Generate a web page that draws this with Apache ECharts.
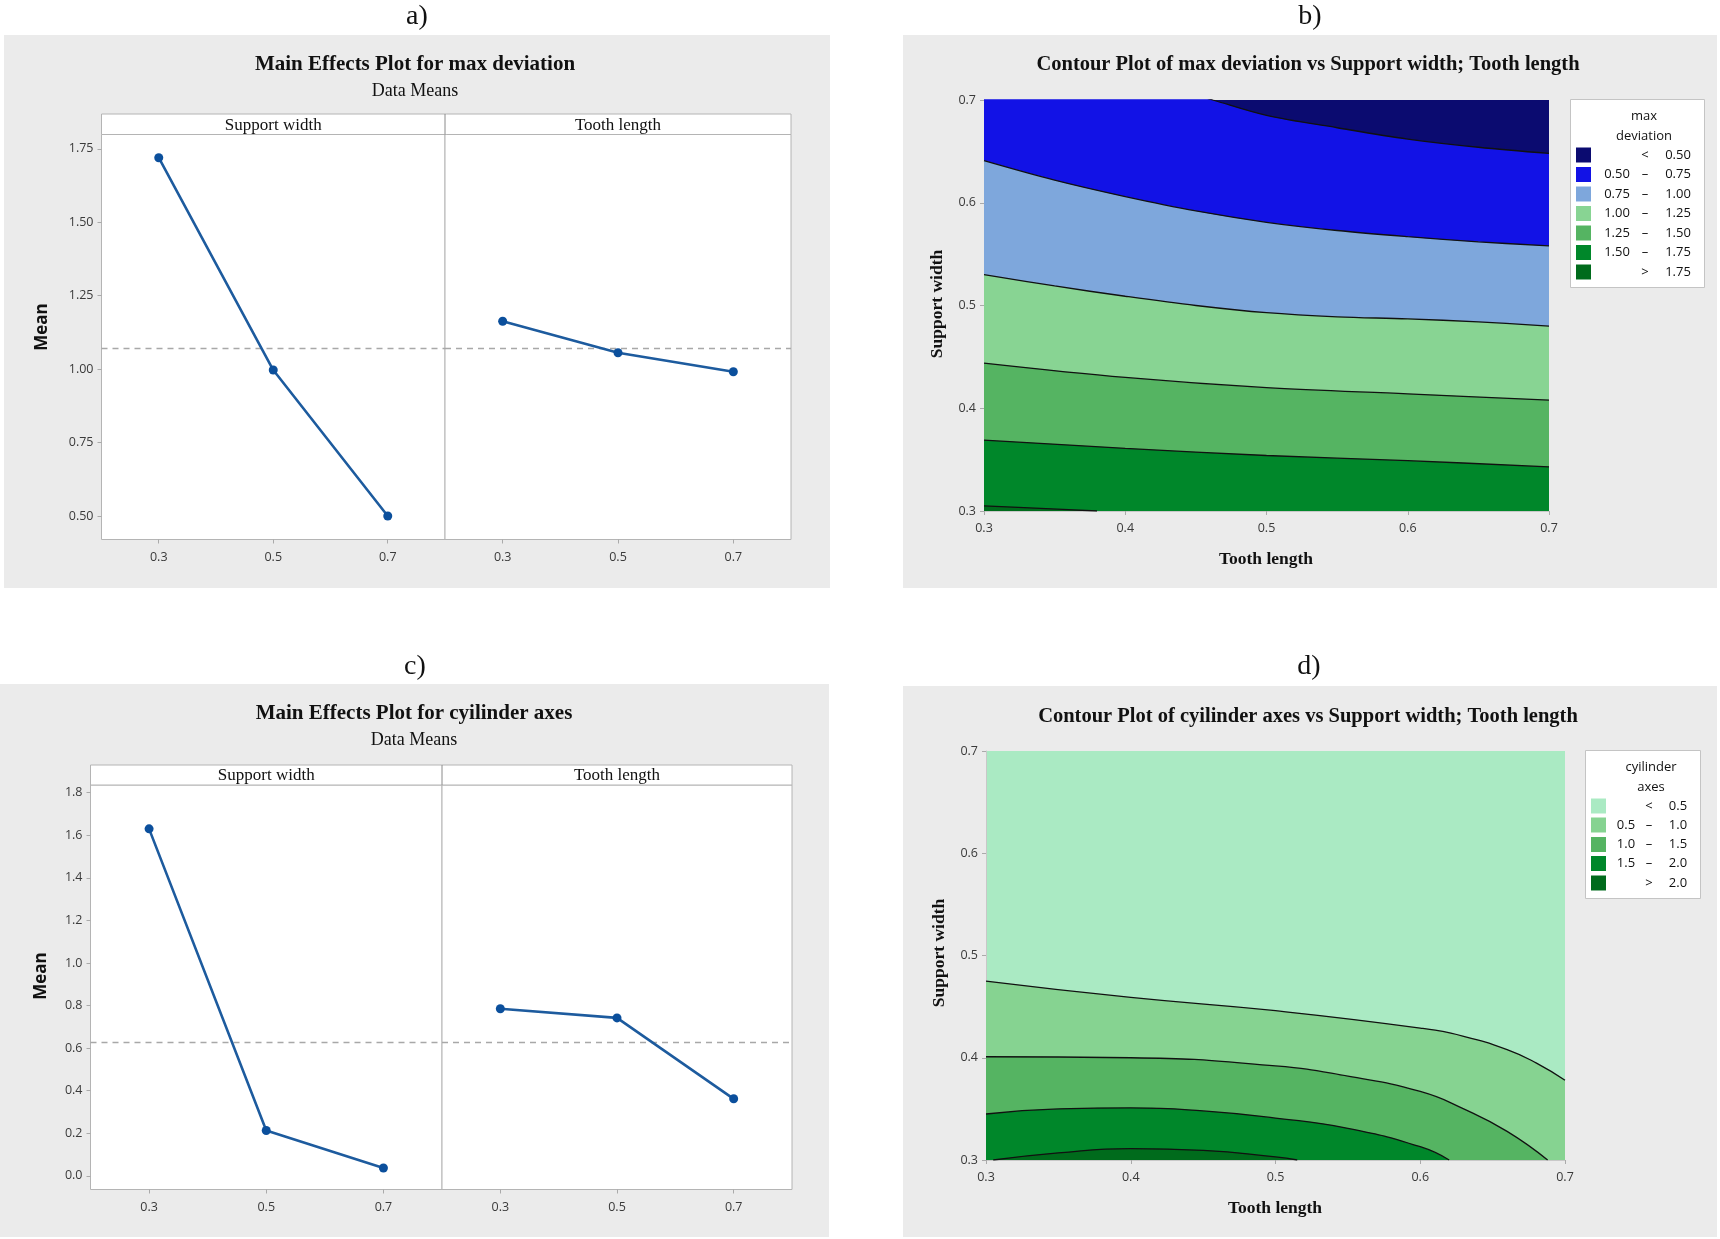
<!DOCTYPE html>
<html>
<head>
<meta charset="utf-8">
<style>
html,body{margin:0;padding:0;background:#ffffff;}
#wrap{position:relative;width:1720px;height:1239px;overflow:hidden;}
.bg{position:absolute;background:#ebebeb;}
#chart{position:absolute;left:0;top:0;width:1720px;height:1239px;}
</style>
<script src="https://cdn.jsdelivr.net/npm/echarts@6.0.0/dist/echarts.min.js"></script>
</head>
<body>
<div id="wrap">
  <div class="bg" style="left:4px;top:35px;width:826px;height:553px;"></div>
  <div class="bg" style="left:903px;top:35px;width:814px;height:553px;"></div>
  <div class="bg" style="left:0px;top:684px;width:829px;height:553px;"></div>
  <div class="bg" style="left:903px;top:686px;width:814px;height:551px;"></div>
  <div id="chart"></div>
</div>
<script>
// ---------- DATA ----------
const factorLevels = [0.3, 0.5, 0.7];
const xTickValues = [0.3, 0.5, 0.7];

// a) Main effects for max deviation
const aSupportMeans = [1.72, 0.997, 0.50];
const aToothMeans = [1.163, 1.056, 0.991];
const aGrandMean = 1.071;
const aYTicks = [0.50, 0.75, 1.00, 1.25, 1.50, 1.75];

// c) Main effects for cyilinder axes
const cSupportMeans = [1.63, 0.213, 0.037];
const cToothMeans = [0.785, 0.742, 0.362];
const cGrandMean = 0.627;
const cYTicks = [0.0, 0.2, 0.4, 0.6, 0.8, 1.0, 1.2, 1.4, 1.6, 1.8];

// b) Contour lines of max deviation: [Tooth length, Support width]
const bContour050 = [[0.3,0.765],[0.4,0.725],[0.462,0.700],[0.5,0.685],[0.55,0.673],[0.6,0.662],[0.65,0.654],[0.7,0.648]];
const bContour075 = [[0.3,0.641],[0.35,0.622],[0.4,0.606],[0.45,0.592],[0.5,0.581],[0.55,0.573],[0.6,0.567],[0.65,0.562],[0.7,0.558]];
const bContour100 = [[0.3,0.530],[0.35,0.519],[0.4,0.509],[0.45,0.500],[0.5,0.493],[0.55,0.489],[0.6,0.487],[0.65,0.484],[0.7,0.480]];
const bContour125 = [[0.3,0.444],[0.4,0.430],[0.5,0.420],[0.6,0.414],[0.7,0.408]];
const bContour150 = [[0.3,0.369],[0.4,0.361],[0.5,0.354],[0.6,0.349],[0.7,0.343]];
const bContour175 = [[0.3,0.305],[0.34,0.3025],[0.38,0.300]];
const bLegendLo = ['', '0.50', '0.75', '1.00', '1.25', '1.50', ''];
const bLegendOp = ['<', '–', '–', '–', '–', '–', '>'];
const bLegendHi = ['0.50', '0.75', '1.00', '1.25', '1.50', '1.75', '1.75'];
const bColors = ['#0b0b70', '#1212e6', '#7ea7dc', '#88d493', '#55b462', '#00872a', '#006b1c'];

// d) Contour lines of cyilinder axes
const dContour05 = [[0.3,0.475],[0.4,0.459],[0.5,0.446],[0.6,0.429],[0.63,0.421],[0.66,0.408],[0.68,0.395],[0.7,0.378]];
const dContour10 = [[0.3,0.401],[0.4,0.400],[0.5,0.392],[0.55,0.382],[0.6,0.367],[0.63,0.350],[0.66,0.328],[0.688,0.300]];
const dContour15 = [[0.3,0.345],[0.35,0.350],[0.4,0.351],[0.45,0.348],[0.5,0.341],[0.55,0.331],[0.6,0.313],[0.62,0.300]];
const dContour20 = [[0.305,0.300],[0.35,0.307],[0.4,0.3112],[0.45,0.3095],[0.5,0.303],[0.515,0.300]];
const dLegendLo = ['', '0.5', '1.0', '1.5', ''];
const dLegendOp = ['<', '–', '–', '–', '>'];
const dLegendHi = ['0.5', '1.0', '1.5', '2.0', '2.0'];
const dColors = ['#aaeac3', '#86d391', '#55b462', '#00872a', '#006b1c'];

const contourTicks = [0.3, 0.4, 0.5, 0.6, 0.7];

// ---------- STYLE HELPERS ----------
const SANS = '"Open Sans", "Noto Sans", sans-serif';
const SERIF = '"Liberation Serif", "DejaVu Serif", serif';
const lineBlue = '#1d5b9e';
const frameColor = '#b4b4b4';

function meGrid(left, top, width, height) {
  return {left, top, width, height, show: true, backgroundColor: '#ffffff', borderColor: frameColor, borderWidth: 1};
}
function meX(gridIndex) {
  return {
    type: 'value', gridIndex, min: 0.2, max: 0.8, position: 'bottom',
    axisLine: {show: false, onZero: false}, splitLine: {show: false},
    axisTick: {show: true, length: 4, lineStyle: {color: '#aaaaaa'}, customValues: xTickValues},
    axisLabel: {show: true, customValues: xTickValues, margin: 11, fontSize: 12.5, fontFamily: SANS, color: '#3a3a3a', formatter: v => v.toFixed(1)}
  };
}
function meY(gridIndex, min, max, ticks, showLabels, digits) {
  return {
    type: 'value', gridIndex, min, max,
    axisLine: {show: false, onZero: false}, splitLine: {show: false},
    axisTick: {show: showLabels, length: 4, lineStyle: {color: '#aaaaaa'}, customValues: ticks},
    axisLabel: {show: showLabels, customValues: ticks, margin: 8, fontSize: 12.5, fontFamily: SANS, color: '#3a3a3a', formatter: v => v.toFixed(digits)}
  };
}
function meSeries(xi, yi, values, mean) {
  return {
    type: 'line', xAxisIndex: xi, yAxisIndex: yi,
    data: factorLevels.map((x, i) => [x, values[i]]),
    symbol: 'circle', symbolSize: 9,
    lineStyle: {color: lineBlue, width: 2.6},
    itemStyle: {color: '#0b4f9c'},
    z: 5,
    markLine: {
      silent: true, symbol: 'none', animation: false,
      label: {show: false},
      lineStyle: {type: [6, 5], color: '#a8a8a8', width: 1.3},
      data: [{yAxis: mean}]
    }
  };
}
function cGridOpt(left, top, width, height, bg) {
  return {left, top, width, height, show: true, backgroundColor: bg, borderWidth: 0};
}
function cAxis(gridIndex, isX) {
  return {
    type: 'value', gridIndex, min: 0.3, max: 0.7,
    axisLine: {show: true, onZero: false, lineStyle: {color: '#c8c8c8', width: 1}},
    splitLine: {show: false},
    axisTick: {show: true, length: 4, lineStyle: {color: '#aaaaaa'}, customValues: contourTicks},
    axisLabel: {show: true, customValues: contourTicks, margin: isX ? 11 : 8, fontSize: 12.5, fontFamily: SANS, color: '#3a3a3a', formatter: v => v.toFixed(1)}
  };
}
function contourSeries(xi, data, fill, smooth) {
  return {
    type: 'line', xAxisIndex: xi, yAxisIndex: xi, data,
    symbol: 'none', smooth: smooth, clip: true, silent: true,
    lineStyle: {color: '#111111', width: 1.3},
    areaStyle: {color: fill, opacity: 1, origin: 'start'}
  };
}

// ---------- GRAPHIC TEXT ----------
function txt(x, y, text, size, family, weight, extra) {
  return Object.assign({
    type: 'text', x, y, z: 50, silent: true,
    style: {text, fontSize: size, fontFamily: family, fontWeight: weight || 'normal', fill: '#111111', align: 'center', verticalAlign: 'middle'}
  }, extra || {});
}
function rtxt(x, y, text, size, family, weight) {
  return txt(x, y, text, size, family, weight, {rotation: Math.PI / 2});
}

const graphics = [];
// panel letters
graphics.push(txt(417, 17, 'a)', 28, SERIF));
graphics.push(txt(1310, 17, 'b)', 28, SERIF));
graphics.push(txt(415, 667, 'c)', 28, SERIF));
graphics.push(txt(1309, 667, 'd)', 28, SERIF));
// titles
graphics.push(txt(415, 65, 'Main Effects Plot for max deviation', 21, SERIF, 'bold'));
graphics.push(txt(415, 91, 'Data Means', 18, SERIF));
graphics.push(txt(414, 714, 'Main Effects Plot for cyilinder axes', 21, SERIF, 'bold'));
graphics.push(txt(414, 740, 'Data Means', 18, SERIF));
graphics.push(txt(1308, 65, 'Contour Plot of max deviation vs Support width; Tooth length', 20.5, SERIF, 'bold'));
graphics.push(txt(1308, 717, 'Contour Plot of cyilinder axes vs Support width; Tooth length', 20.5, SERIF, 'bold'));
// strips (panel headers of main effects plots)
function strip(x0, xMid, x1, yTop, yBot, leftLabel, rightLabel) {
  graphics.push({type: 'rect', z: 40, silent: true, shape: {x: x0, y: yTop, width: x1 - x0, height: yBot - yTop},
    style: {fill: '#ffffff', stroke: frameColor, lineWidth: 1}});
  graphics.push({type: 'line', z: 41, silent: true, shape: {x1: xMid, y1: yTop, x2: xMid, y2: yBot},
    style: {stroke: '#8a8a8a', lineWidth: 1}});
  graphics.push(txt((x0 + xMid) / 2, (yTop + yBot) / 2 + 1, leftLabel, 17, SERIF));
  graphics.push(txt((xMid + x1) / 2, (yTop + yBot) / 2 + 1, rightLabel, 17, SERIF));
}
strip(101.5, 445, 791, 114, 134.5, 'Support width', 'Tooth length');
strip(90.5, 442, 792, 765, 785, 'Support width', 'Tooth length');
// Mean axis names
graphics.push(rtxt(42, 327, 'Mean', 17, SANS, 'bold'));
graphics.push(rtxt(41, 976, 'Mean', 17, SANS, 'bold'));
// contour axis names
graphics.push(txt(1266, 559, 'Tooth length', 17.5, SERIF, 'bold'));
graphics.push(rtxt(937, 304, 'Support width', 17.5, SERIF, 'bold'));
graphics.push(txt(1275, 1208, 'Tooth length', 17.5, SERIF, 'bold'));
graphics.push(rtxt(939, 953, 'Support width', 17.5, SERIF, 'bold'));

// legends
function contourLegend(box, titleLines, titleY, rows, colors, lo, op, hi, cols) {
  graphics.push({type: 'rect', z: 40, silent: true, shape: {x: box[0], y: box[1], width: box[2], height: box[3]},
    style: {fill: '#ffffff', stroke: '#c4c4c4', lineWidth: 1}});
  titleLines.forEach((t, i) => graphics.push(txt(cols.title, titleY[i], t, 13, SANS)));
  for (let i = 0; i < colors.length; i++) {
    const y = rows[i];
    graphics.push({type: 'rect', z: 45, silent: true, shape: {x: cols.sw, y: y - 7.5, width: 15, height: 15}, style: {fill: colors[i]}});
    if (lo[i]) graphics.push(txt(cols.lo, y, lo[i], 13, SANS));
    graphics.push(txt(cols.op, y, op[i], 13, SANS));
    graphics.push(txt(cols.hi, y, hi[i], 13, SANS));
  }
}
contourLegend([1570.5, 99.5, 134, 188], ['max', 'deviation'], [116, 136],
  [155, 174.5, 194, 213.5, 233, 252.5, 272], bColors, bLegendLo, bLegendOp, bLegendHi,
  {title: 1644, sw: 1576, lo: 1617, op: 1645, hi: 1678});
contourLegend([1585.5, 750.5, 115, 148], ['cyilinder', 'axes'], [767, 787],
  [806, 825, 844.5, 863.5, 883], dColors, dLegendLo, dLegendOp, dLegendHi,
  {title: 1651, sw: 1591, lo: 1626, op: 1649, hi: 1678});

// ---------- OPTION ----------
const option = {
  animation: false,
  backgroundColor: 'transparent',
  grid: [
    meGrid(101.5, 134.5, 343.5, 405),   // 0 a-left
    meGrid(445, 134.5, 346, 405),       // 1 a-right
    cGridOpt(984, 100, 565, 411, bColors[0]),   // 2 b
    meGrid(90.5, 785, 351.5, 404.5),    // 3 c-left
    meGrid(442, 785, 350, 404.5),       // 4 c-right
    cGridOpt(986, 751, 579, 409, dColors[0])    // 5 d
  ],
  xAxis: [meX(0), meX(1), cAxis(2, true), meX(3), meX(4), cAxis(5, true)],
  yAxis: [
    meY(0, 0.42, 1.799, aYTicks, true, 2),
    meY(1, 0.42, 1.799, aYTicks, false, 2),
    cAxis(2, false),
    meY(3, -0.064, 1.836, cYTicks, true, 1),
    meY(4, -0.064, 1.836, cYTicks, false, 1),
    cAxis(5, false)
  ],
  series: [
    meSeries(0, 0, aSupportMeans, aGrandMean),
    meSeries(1, 1, aToothMeans, aGrandMean),
    meSeries(3, 3, cSupportMeans, cGrandMean),
    meSeries(4, 4, cToothMeans, cGrandMean),
    contourSeries(2, bContour050, bColors[1], 0.35),
    contourSeries(2, bContour075, bColors[2], 0.35),
    contourSeries(2, bContour100, bColors[3], 0.35),
    contourSeries(2, bContour125, bColors[4], 0.35),
    contourSeries(2, bContour150, bColors[5], 0.35),
    contourSeries(2, bContour175, bColors[6], 0.35),
    contourSeries(5, dContour05, dColors[1], 0.5),
    contourSeries(5, dContour10, dColors[2], 0.5),
    contourSeries(5, dContour15, dColors[3], 0.5),
    contourSeries(5, dContour20, dColors[4], 0.5)
  ],
  graphic: {elements: graphics}
};

const chart = echarts.init(document.getElementById('chart'), null, {renderer: 'canvas'});
chart.setOption(option);
</script>
</body>
</html>
